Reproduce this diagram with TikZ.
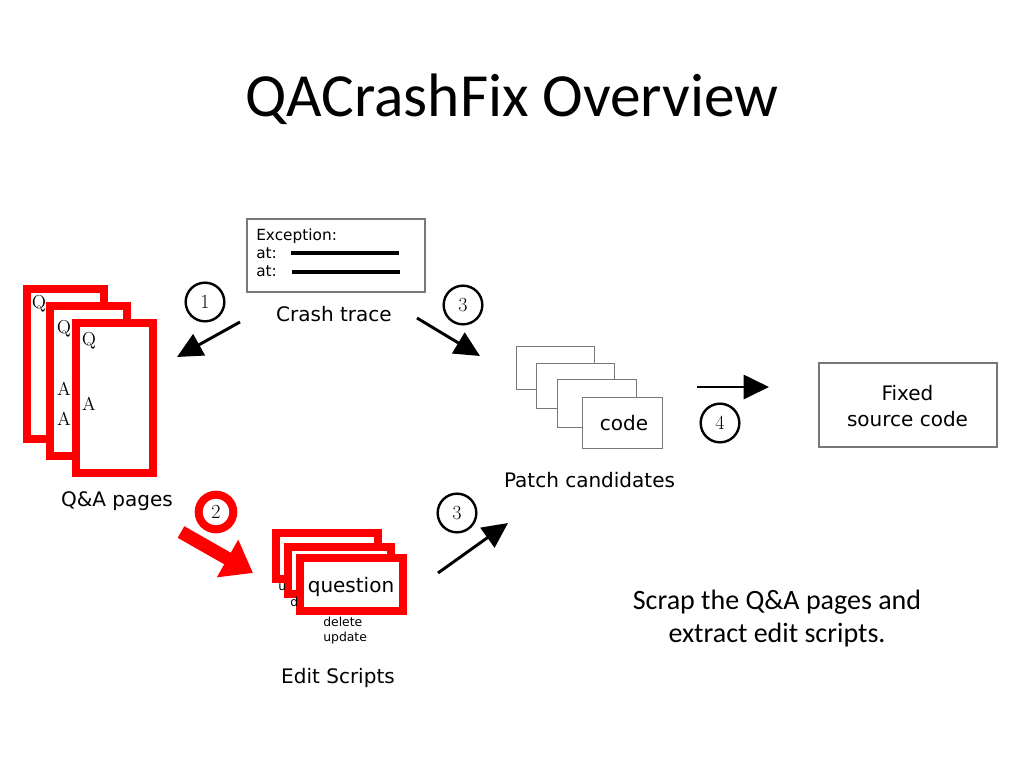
\documentclass[tikz,border=0pt]{standalone}
\usepackage{fontspec}
\newfontfamily\titlefont{Carlito}
\newfontfamily\diagfont{DejaVu Sans}
\usetikzlibrary{arrows.meta,positioning}
\definecolor{qared}{RGB}{255,0,0}
\definecolor{boxgray}{RGB}{120,120,120}

\begin{document}
\begin{tikzpicture}[x=0.75pt,y=0.75pt,yscale=-1,xscale=1,
  qapage/.style={draw=qared,line width=6pt,fill=white,inner sep=0pt,minimum width=57.75pt,minimum height=112.5pt},
  editcard/.style={draw=qared,line width=6pt,fill=white,inner sep=0pt,minimum width=77pt},
  patchcard/.style={draw=boxgray,line width=0.7pt,fill=white,inner sep=0pt,minimum width=58.5pt},
  plainbox/.style={draw=boxgray,line width=1.1pt,inner sep=0pt},
  numcirc/.style={circle,draw,line width=1.8pt,minimum size=29pt,inner sep=0pt,font=\fontsize{15}{15}\selectfont},
  flowarrow/.style={-{Triangle[length=19pt,width=18pt]},line width=2.2pt},
  lbl/.style={font=\diagfont\fontsize{15}{18}\selectfont,inner sep=0pt,anchor=base},
  small/.style={font=\diagfont\fontsize{11.5}{13}\selectfont,inner sep=0pt,anchor=base west},
  tiny/.style={font=\diagfont\fontsize{9.3}{11}\selectfont,inner sep=0pt,anchor=base west},
  qa/.style={font=\fontsize{14}{14}\selectfont,inner sep=0pt}]
\useasboundingbox (0,0) rectangle (1024,768);

% Title
\node[font=\titlefont\fontsize{46}{46}\selectfont,inner sep=0pt,anchor=base] (title) at (512,116) {QACrashFix Overview};

% Crash trace
\node[plainbox,minimum width=133.5pt,minimum height=54.75pt] (trace) at (336,255.5) {};
\node[small] (exc) at (256,240) {Exception:};
\node[small] (at1) at (256,258) {at:};
\node[small] (at2) at (256,276) {at:};
\draw[line width=3pt] (291,253) -- (399,253);
\draw[line width=3pt] (292,272) -- (400,272);
\node[lbl] (tracelbl) at (334,321) {Crash trace};

% Q&A pages
\node[qapage] (qa1) at (65.5,364) {};
\node[qa] at (39,304) {Q};
\node[qapage] (qa2) at (88.5,380.5) {};
\node[qa] at (64,329) {Q};
\node[qa] at (64,389) {A};
\node[qa] at (64,419) {A};
\node[qapage] (qa3) at (114,398) {};
\node[qa] at (89,341) {Q};
\node[qa] at (89,404) {A};
\node[lbl] (qalbl) at (117,506) {Q\&A pages};

% Edit scripts
\node[editcard,minimum height=34.5pt] (ed1) at (327,556) {};
\node[editcard,minimum height=35.25pt] (ed2) at (339.5,570.5) {};
\node[tiny] at (278,590) {u};
\node[editcard,minimum height=39.75pt] (ed3) at (351.5,584.5) {};
\node[tiny] at (290,606) {d};
\node[lbl] (question) at (351,592) {question};
\node[tiny] (del) at (323,626) {delete};
\node[tiny] (upd) at (323,641) {update};
\node[lbl] (editlbl) at (338,683) {Edit Scripts};

% Patch candidates
\node[patchcard,minimum height=32.25pt] (pc1) at (555,367.5) {};
\node[patchcard,minimum height=33.75pt] (pc2) at (575,385.5) {};
\node[patchcard,minimum height=36pt,minimum width=59.25pt] (pc3) at (596.5,403) {};
\node[patchcard,minimum height=38.25pt,minimum width=60pt] (pc4) at (622,422.5) {};
\node[lbl] (code) at (624,430) {code};
\node[lbl] (patchlbl) at (589.5,487) {Patch candidates};

% Fixed source code
\node[plainbox,minimum width=133.5pt,minimum height=63pt] (fixed) at (908,405) {};
\node[lbl] (fixed1) at (907.5,400) {Fixed};
\node[lbl] (fixed2) at (907.5,426) {source code};

% Steps
\node[numcirc] (step1) at (205,302) {1};
\node[numcirc] (step3a) at (463,305) {3};
\node[numcirc] (step3b) at (457,513) {3};
\node[numcirc] (step4) at (720,423) {4};
\node[numcirc,draw=qared,line width=6pt,minimum size=26pt] (step2) at (216,512) {2};

\coordinate (a1s) at (240,322);
\coordinate (a1e) at (177,357);
\coordinate (a3s) at (417,318);
\coordinate (a3e) at (480,356);
\coordinate (b3s) at (438,573);
\coordinate (b3e) at (508,523);
\coordinate (a4s) at (697,387);
\coordinate (a4e) at (769,387);
\coordinate (a2s) at (181,532);
\coordinate (a2e) at (253,573);

\draw[flowarrow] (a1s) -- (a1e);
\draw[flowarrow] (a3s) -- (a3e);
\draw[flowarrow] (b3s) -- (b3e);
\draw[flowarrow] (a4s) -- (a4e);
\draw[qared,line width=10pt,-{Triangle[length=22pt,width=31pt]}] (a2s) -- (a2e);

% Caption
\node[font=\titlefont\fontsize{21}{25}\selectfont,inner sep=0pt,anchor=base] (cap1) at (777,609) {Scrap the Q\&A pages and};
\node[font=\titlefont\fontsize{21}{25}\selectfont,inner sep=0pt,anchor=base] (cap2) at (777,642) {extract edit scripts.};

\end{tikzpicture}
\end{document}
